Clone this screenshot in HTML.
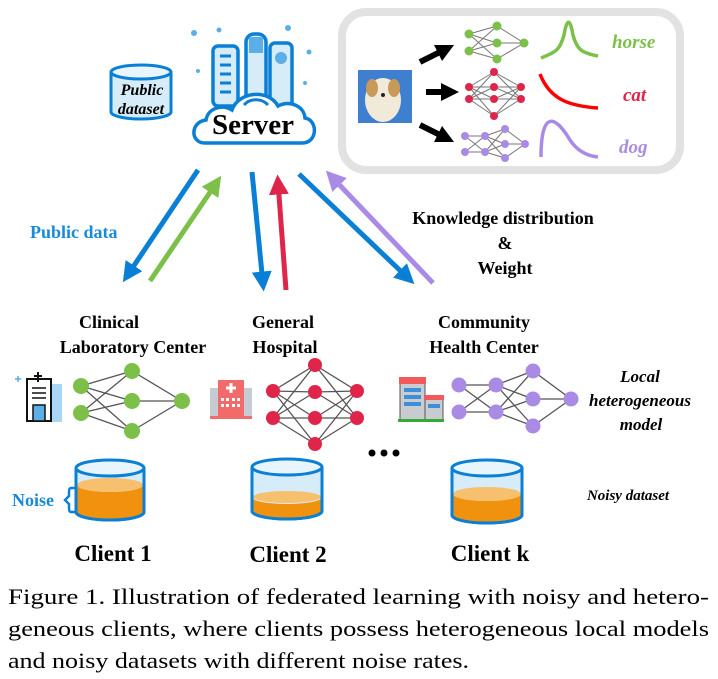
<!DOCTYPE html>
<html><head><meta charset="utf-8"><style>
body{margin:0;background:#fff;width:718px;height:679px;overflow:hidden}
svg{display:block}
</style></head><body>
<svg width="718" height="679" viewBox="0 0 718 679" font-family="Liberation Serif, Times New Roman, Times, serif">
<defs>
<marker id="hb" markerWidth="4" markerHeight="4" refX="2.5" refY="2" orient="auto" markerUnits="strokeWidth"><path d="M0,0 L4,2 L0,4z" fill="#0a7fd6"/></marker>
<marker id="hg" markerWidth="4" markerHeight="4" refX="2.5" refY="2" orient="auto" markerUnits="strokeWidth"><path d="M0,0 L4,2 L0,4z" fill="#7cc04a"/></marker>
<marker id="hr" markerWidth="4" markerHeight="4" refX="2.5" refY="2" orient="auto" markerUnits="strokeWidth"><path d="M0,0 L4,2 L0,4z" fill="#e0254a"/></marker>
<marker id="hp" markerWidth="4" markerHeight="4" refX="2.5" refY="2" orient="auto" markerUnits="strokeWidth"><path d="M0,0 L4,2 L0,4z" fill="#a98be6"/></marker>
<marker id="hk" markerWidth="3" markerHeight="3" refX="1.5" refY="1.5" orient="auto" markerUnits="strokeWidth"><path d="M0,0 L3,1.5 L0,3z" fill="#000"/></marker>
</defs>

<!-- public dataset -->
<ellipse cx="141" cy="112" rx="30" ry="7" fill="#d6ecf8" stroke="#0a7fd6" stroke-width="3"/>
<rect x="111" y="72" width="60" height="40" fill="#d6ecf8"/>
<line x1="111" y1="72" x2="111" y2="112" stroke="#0a7fd6" stroke-width="3"/>
<line x1="171" y1="72" x2="171" y2="112" stroke="#0a7fd6" stroke-width="3"/>
<ellipse cx="141" cy="72" rx="30" ry="7" fill="#e8f5fc" stroke="#0a7fd6" stroke-width="3"/>
<text x="142" y="95" text-anchor="middle" font-weight="bold" font-style="italic" font-size="16">Public</text>
<text x="141" y="114" text-anchor="middle" font-weight="bold" font-style="italic" font-size="16">dataset</text>

<!-- server -->
<g fill="#5baee6"><circle cx="194" cy="33" r="3"/><circle cx="219" cy="30" r="2.5"/><circle cx="288" cy="28" r="3"/><circle cx="309" cy="52" r="2.5"/><circle cx="198" cy="71" r="2"/><circle cx="305" cy="83" r="2"/></g>
<rect x="213" y="46" width="25" height="60" rx="5" fill="#d6ecf8" stroke="#0a7fd6" stroke-width="3.5"/>
<g stroke="#0a7fd6" stroke-width="3"><line x1="220" y1="56" x2="231" y2="56"/><line x1="220" y1="65" x2="231" y2="65"/><line x1="220" y1="74" x2="231" y2="74"/><line x1="220" y1="83" x2="231" y2="83"/><line x1="220" y1="92" x2="231" y2="92"/></g>
<rect x="246" y="34" width="20" height="75" rx="8" fill="#d6ecf8" stroke="#0a7fd6" stroke-width="3.5"/>
<rect x="249" y="37" width="14" height="16" fill="#5baee6"/>
<rect x="270" y="43" width="22" height="65" rx="5" fill="#d6ecf8" stroke="#0a7fd6" stroke-width="3.5"/>
<circle cx="281" cy="58" r="6" fill="#5baee6"/>
<path d="M205,143 C190,143 190,122 206,120 C208,108 222,104 232,110 C238,92 268,88 278,106 C290,100 304,106 305,118 C318,120 318,143 302,143 Z" fill="#fff" stroke="#0a7fd6" stroke-width="3.5"/>
<path d="M244,105 C250,98 262,98 268,105" fill="none" stroke="#0a7fd6" stroke-width="3"/>
<text x="253" y="134" text-anchor="middle" font-weight="bold" font-size="29">Server</text>

<!-- grey box -->
<rect x="342" y="12" width="338" height="158" rx="24" fill="#fff" stroke="#e2e2e2" stroke-width="8"/>
<rect x="358" y="70" width="54" height="53" fill="#3f7fd0"/>
<ellipse cx="383" cy="100" rx="18" ry="22" fill="#f2ead8"/>
<ellipse cx="372" cy="88" rx="6" ry="9" fill="#c89a5a"/><ellipse cx="394" cy="88" rx="6" ry="9" fill="#c89a5a"/>
<circle cx="383" cy="95" r="2" fill="#222"/>
<g stroke="#000" stroke-width="6" fill="none">
<line x1="420" y1="62" x2="446" y2="49" marker-end="url(#hk)"/>
<line x1="426" y1="92" x2="450" y2="92" marker-end="url(#hk)"/>
<line x1="420" y1="125" x2="446" y2="138" marker-end="url(#hk)"/>
</g>
<g stroke="#777" stroke-width="1">
<path d="M469,34L497,26M469,34L497,43M469,34L497,59M469,51L497,26M469,51L497,43M469,51L497,59M497,26L524,43M497,43L524,43M497,59L524,43"/>
<path d="M469,87L494,72M469,87L494,87M469,87L494,99M469,87L494,116M469,99L494,72M469,99L494,87M469,99L494,99M469,99L494,116M494,72L521,87M494,72L521,99M494,87L521,87M494,87L521,99M494,99L521,87M494,99L521,99M494,116L521,87M494,116L521,99"/>
<path d="M465,136L485,136M465,136L485,152M465,152L485,136M465,152L485,152M485,136L505,129M485,136L505,144M485,136L505,158M485,152L505,129M485,152L505,144M485,152L505,158M505,129L525,144M505,144L525,144M505,158L525,144"/>
</g>
<g fill="#7cc04a"><circle cx="469" cy="34" r="4.5"/><circle cx="469" cy="51" r="4.5"/><circle cx="497" cy="26" r="4.5"/><circle cx="497" cy="43" r="4.5"/><circle cx="497" cy="59" r="4.5"/><circle cx="524" cy="43" r="4.5"/></g>
<g fill="#e0254a"><circle cx="469" cy="87" r="4"/><circle cx="469" cy="99" r="4"/><circle cx="494" cy="72" r="4"/><circle cx="494" cy="87" r="4"/><circle cx="494" cy="99" r="4"/><circle cx="494" cy="116" r="4"/><circle cx="521" cy="87" r="4"/><circle cx="521" cy="99" r="4"/></g>
<g fill="#a98be6"><circle cx="465" cy="136" r="4"/><circle cx="465" cy="152" r="4"/><circle cx="485" cy="136" r="4"/><circle cx="485" cy="152" r="4"/><circle cx="505" cy="129" r="4"/><circle cx="505" cy="144" r="4"/><circle cx="505" cy="158" r="4"/><circle cx="525" cy="144" r="4"/></g>
<path d="M541,58 C556,52 560,50 564,35 C567,18 570,18 573,35 C577,50 582,53 598,56" fill="none" stroke="#7cc04a" stroke-width="3.5"/>
<path d="M540,74 C550,100 570,106 598,108" fill="none" stroke="#f00" stroke-width="3.5"/>
<path d="M541,157 C541,110 555,115 570,140 C578,152 588,156 598,157" fill="none" stroke="#a98be6" stroke-width="3.5"/>
<text x="612" y="48" font-weight="bold" font-style="italic" font-size="19" fill="#7cc04a">horse</text>
<text x="623" y="101" font-weight="bold" font-style="italic" font-size="19" fill="#e0254a">cat</text>
<text x="619" y="153" font-weight="bold" font-style="italic" font-size="19" fill="#a98be6">dog</text>

<!-- main arrows -->
<g stroke-width="5" fill="none">
<line x1="198" y1="170" x2="127" y2="276" stroke="#0a7fd6" marker-end="url(#hb)"/>
<line x1="150" y1="281" x2="217" y2="182" stroke="#7cc04a" marker-end="url(#hg)"/>
<line x1="252" y1="172" x2="263" y2="284" stroke="#0a7fd6" marker-end="url(#hb)"/>
<line x1="286" y1="290" x2="278" y2="182" stroke="#e0254a" marker-end="url(#hr)"/>
<line x1="299" y1="174" x2="409" y2="279" stroke="#0a7fd6" marker-end="url(#hb)"/>
<line x1="433" y1="283" x2="331" y2="176" stroke="#a98be6" marker-end="url(#hp)"/>
</g>
<text x="30" y="238" font-weight="bold" font-size="18" fill="#1a8ad8">Public data</text>
<g font-weight="bold" font-size="18" text-anchor="middle">
<text x="503" y="224">Knowledge distribution</text>
<text x="505" y="249">&amp;</text>
<text x="505" y="274">Weight</text>
<text x="109" y="328">Clinical</text><text x="133" y="353">Laboratory Center</text>
<text x="283" y="328">General</text><text x="285" y="353">Hospital</text>
<text x="484" y="328">Community</text><text x="484" y="353">Health Center</text>
</g>

<!-- icons -->
<rect x="34" y="384" width="28" height="38" fill="#a8d6f4"/>
<rect x="27" y="379" width="24" height="42" fill="#fff" stroke="#111" stroke-width="2"/>
<g stroke="#111" stroke-width="1.5"><line x1="32" y1="388" x2="46" y2="388"/><line x1="32" y1="393" x2="46" y2="393"/><line x1="32" y1="398" x2="46" y2="398"/></g>
<rect x="33" y="405" width="12" height="16" fill="#5baee6" stroke="#111" stroke-width="1.5"/>
<path d="M38,372v10M34,376h8" stroke="#111" stroke-width="2"/>
<path d="M15,379h6M18,376v6" stroke="#5baee6" stroke-width="1.5"/>

<rect x="210" y="388" width="42" height="30" fill="#c5ccd3"/>
<rect x="218" y="380" width="26" height="38" fill="#f26b6b"/>
<path d="M231,383v10M226,388h10" stroke="#fff" stroke-width="3"/>
<g fill="#fff"><rect x="221" y="398" width="3" height="3"/><rect x="226" y="398" width="3" height="3"/><rect x="232" y="398" width="3" height="3"/><rect x="237" y="398" width="3" height="3"/><rect x="221" y="404" width="3" height="3"/><rect x="226" y="404" width="3" height="3"/><rect x="232" y="404" width="3" height="3"/><rect x="237" y="404" width="3" height="3"/></g>
<rect x="210" y="416" width="42" height="3" fill="#f26b6b"/>

<rect x="400" y="382" width="25" height="38" fill="#c8ccd0" stroke="#555" stroke-width="1"/>
<rect x="399" y="377" width="27" height="7" fill="#f05a5a"/>
<g fill="#3d8fd8"><rect x="404" y="388" width="17" height="4"/><rect x="404" y="395" width="17" height="4"/><rect x="404" y="402" width="17" height="4"/></g>
<rect x="425" y="398" width="18" height="22" fill="#c8ccd0" stroke="#555" stroke-width="1"/>
<rect x="424" y="395" width="20" height="5" fill="#f05a5a"/>
<rect x="428" y="404" width="12" height="4" fill="#3d8fd8"/>
<rect x="398" y="419" width="46" height="3" fill="#3a3"/>

<!-- big nets -->
<g stroke="#555" stroke-width="1.3">
<path d="M81,386L132,371M81,386L132,401M81,386L132,431M81,413L132,371M81,413L132,401M81,413L132,431M132,371L182,401M132,401L182,401M132,431L182,401"/>
<path d="M273,391L315,365M273,391L315,392M273,391L315,418M273,391L315,444M273,418L315,365M273,418L315,392M273,418L315,418M273,418L315,444M315,365L357,391M315,365L357,418M315,392L357,391M315,392L357,418M315,418L357,391M315,418L357,418M315,444L357,391M315,444L357,418"/>
<path d="M459,385L496,385M459,385L496,412M459,412L496,385M459,412L496,412M496,385L533,371M496,385L533,399M496,385L533,426M496,412L533,371M496,412L533,399M496,412L533,426M533,371L571,399M533,399L571,399M533,426L571,399"/>
</g>
<g fill="#7cc04a"><circle cx="81" cy="386" r="8"/><circle cx="81" cy="413" r="8"/><circle cx="132" cy="371" r="8"/><circle cx="132" cy="401" r="8"/><circle cx="132" cy="431" r="8"/><circle cx="182" cy="401" r="8"/></g>
<g fill="#e0254a"><circle cx="273" cy="391" r="7"/><circle cx="273" cy="418" r="7"/><circle cx="315" cy="365" r="7"/><circle cx="315" cy="392" r="7"/><circle cx="315" cy="418" r="7"/><circle cx="315" cy="444" r="7"/><circle cx="357" cy="391" r="7"/><circle cx="357" cy="418" r="7"/></g>
<g fill="#a98be6"><circle cx="459" cy="385" r="7.5"/><circle cx="459" cy="412" r="7.5"/><circle cx="496" cy="385" r="7.5"/><circle cx="496" cy="412" r="7.5"/><circle cx="533" cy="371" r="7.5"/><circle cx="533" cy="399" r="7.5"/><circle cx="533" cy="426" r="7.5"/><circle cx="571" cy="399" r="7.5"/></g>
<g fill="#000"><circle cx="372" cy="453" r="3.5"/><circle cx="384" cy="453" r="3.5"/><circle cx="396" cy="453" r="3.5"/></g>
<g font-weight="bold" font-style="italic" text-anchor="middle">
<text x="640" y="382" font-size="17">Local</text>
<text x="640" y="406" font-size="17">heterogeneous</text>
<text x="641" y="430" font-size="17">model</text>
<text x="628" y="500" font-size="15">Noisy dataset</text>
</g>

<!-- cylinders -->
<g stroke="#0a7fd6" stroke-width="3">
<path d="M76,468 V512 A34,8 0 0 0 144,512 V468" fill="#d6ecf8"/>
<path d="M77,485 A33,7 0 0 0 143,485 V512 A33,7 0 0 1 77,512Z" fill="#f0920e" stroke="none"/>
<ellipse cx="110" cy="485" rx="33" ry="7" fill="#f6c06e" stroke="none"/>
<ellipse cx="110" cy="468" rx="34" ry="8" fill="#e8f5fc"/>
<path d="M76,468 V512 A34,8 0 0 0 144,512 V468" fill="none"/>

<path d="M252,467 V511 A35,8 0 0 0 322,511 V467" fill="#d6ecf8"/>
<path d="M253,498 A34,6 0 0 0 321,498 V511 A34,7 0 0 1 253,511Z" fill="#f0920e" stroke="none"/>
<ellipse cx="287" cy="497" rx="34" ry="6" fill="#f6c06e" stroke="none"/>
<ellipse cx="287" cy="467" rx="35" ry="8" fill="#e8f5fc"/>
<path d="M252,467 V511 A35,8 0 0 0 322,511 V467" fill="none"/>

<path d="M452,468 V515 A35,8 0 0 0 522,515 V468" fill="#d6ecf8"/>
<path d="M453,494 A34,7 0 0 0 521,494 V515 A34,7 0 0 1 453,515Z" fill="#f0920e" stroke="none"/>
<ellipse cx="487" cy="494" rx="34" ry="7" fill="#f6c06e" stroke="none"/>
<ellipse cx="487" cy="468" rx="35" ry="8" fill="#e8f5fc"/>
<path d="M452,468 V515 A35,8 0 0 0 522,515 V468" fill="none"/>
</g>
<path d="M76,488 H71 Q69,488 69,492 V496 L65,500 L69,504 V508 Q69,512 71,512 H76" fill="none" stroke="#0a7fd6" stroke-width="2.5"/>
<text x="12" y="506" font-weight="bold" font-size="18" fill="#1a8ad8">Noise</text>

<g font-weight="bold" font-size="23" text-anchor="middle">
<text x="113" y="561">Client 1</text><text x="288" y="562">Client 2</text><text x="490" y="561">Client k</text>
</g>

<g font-size="22" fill="#000">
<text x="8" y="604" textLength="701" lengthAdjust="spacingAndGlyphs">Figure 1. Illustration of federated learning with noisy and hetero-</text>
<text x="8" y="636" textLength="701" lengthAdjust="spacingAndGlyphs">geneous clients, where clients possess heterogeneous local models</text>
<text x="8" y="668" textLength="461" lengthAdjust="spacingAndGlyphs">and noisy datasets with different noise rates.</text>
</g>
</svg>
</body></html>
